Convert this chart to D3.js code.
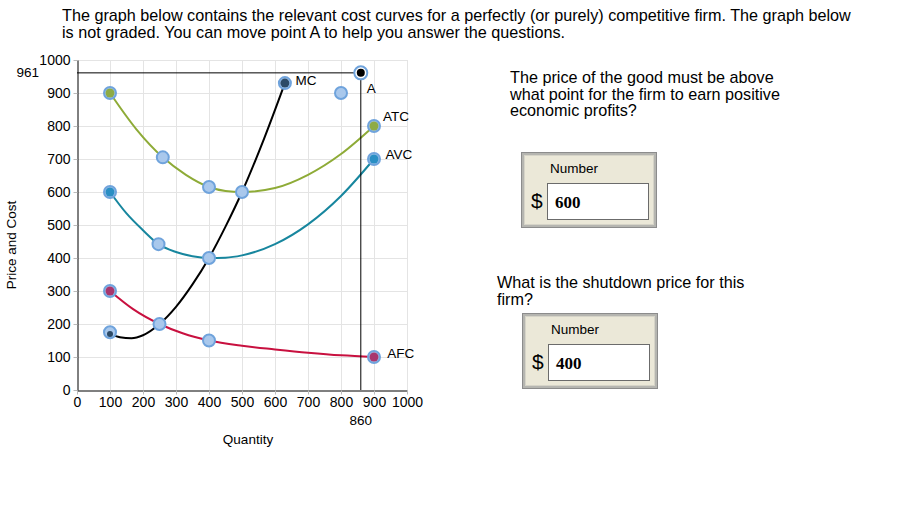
<!DOCTYPE html>
<html>
<head>
<meta charset="utf-8">
<script src="https://d3js.org/d3.v7.min.js"></script>
<style>
  body { margin: 0; background: #fff; }
  svg { font-family: Arial, "Liberation Sans", sans-serif; }
</style>
</head>
<body>
<div id="chart"></div>
<script>
// curve samples [quantity, price]
var mcCurve = [[100,170],[130,160],[165,157],[200,166],[250,200],[300,252],[350,320],[400,400],[450,495],[500,600],[567,762],[630,930]];
var atcCurve = [[100,900],[180,790],[260,705],[330,652],[400,615],[450,603],[500,600],[600,612],[700,652],[800,715],[900,800]];
var avcCurve = [[100,600],[150,535],[200,484],[247,442],[300,418],[350,405],[400,400],[450,401],[500,408],[600,442],[700,502],[800,588],[900,700]];
var afcCurve = [[100,300],[170,245],[250,200],[320,172],[400,150],[500,134],[600,123],[700,113],[800,105],[900,100]];

// draggable handles, inner = colour of the dot inside (null = plain)
var handles = [
  {q: 100, p: 900, inner: '#8eab45'}, {q: 260, p: 705, inner: null}, {q: 400, p: 615, inner: null},
  {q: 500, p: 600, inner: null}, {q: 900, p: 800, inner: '#8eab45'},
  {q: 100, p: 600, inner: '#2a8fc4'}, {q: 247, p: 442, inner: null}, {q: 400, p: 400, inner: null},
  {q: 900, p: 700, inner: '#2a8fc4'},
  {q: 100, p: 300, inner: '#a8366e'}, {q: 250, p: 200, inner: null}, {q: 400, p: 150, inner: null},
  {q: 900, p: 100, inner: '#a8366e'},
  {q: 100, p: 175, inner: null}, {q: 630, p: 930, inner: '#2c4a66'},
  {q: 800, p: 900, inner: null}
];

var pointA = {q: 860, p: 961};
var ticks = [0, 100, 200, 300, 400, 500, 600, 700, 800, 900, 1000];

var curveLabels = [
  {text: 'MC', q: 662, p: 935},
  {text: 'ATC', q: 927, p: 827},
  {text: 'AVC', q: 935, p: 712},
  {text: 'AFC', q: 940, p: 108}
];

var svgWidth = 900;
var svgHeight = 506;
var fontFamily = 'Arial, "Liberation Sans", sans-serif';

var svg = d3.select('#chart').append('svg')
  .attr('width', svgWidth)
  .attr('height', svgHeight);

var x = d3.scaleLinear().domain([0, 1000]).range([77, 407]);
var y = d3.scaleLinear().domain([0, 1000]).range([390, 60]);

// title
var title = svg.append('text').attr('font-size', 16.2).attr('fill', '#000');
title.append('tspan').attr('x', 62).attr('y', 21)
  .text('The graph below contains the relevant cost curves for a perfectly (or purely) competitive firm. The graph below');
title.append('tspan').attr('x', 62).attr('y', 38)
  .text('is not graded. You can move point A to help you answer the questions.');

// grid
var grid = svg.append('g').attr('stroke', '#e4e4e4').attr('stroke-width', 1);
grid.selectAll('line.v').data(ticks.slice(1)).enter().append('line')
  .attr('x1', d => x(d) + 0.5).attr('x2', d => x(d) + 0.5)
  .attr('y1', y(0)).attr('y2', y(1000));
grid.selectAll('line.h').data(ticks.slice(1)).enter().append('line')
  .attr('x1', x(0)).attr('x2', x(1000))
  .attr('y1', d => y(d) + 0.5).attr('y2', d => y(d) + 0.5);

// axes
var xAxis = d3.axisBottom(x).tickValues(ticks).tickFormat(d3.format('d')).tickSize(4).tickSizeOuter(0).tickPadding(3);
var yAxis = d3.axisLeft(y).tickValues(ticks).tickFormat(d3.format('d')).tickSize(4).tickSizeOuter(0).tickPadding(3);

var gx = svg.append('g').attr('transform', `translate(0, ${y(0) + 0.5})`).call(xAxis);
var gy = svg.append('g').attr('transform', `translate(${x(0) + 0.5}, 0)`).call(yAxis);
[gx, gy].forEach(function(g) {
  g.attr('font-size', 14).attr('font-family', fontFamily);
  g.select('.domain').attr('stroke', '#000');
  g.selectAll('.tick line').attr('stroke', '#bbb');
  g.selectAll('.tick text').attr('fill', '#000');
});

svg.append('text').attr('x', 248).attr('y', 444).attr('text-anchor', 'middle')
  .attr('font-size', 13.5).text('Quantity');
svg.append('text').attr('transform', 'translate(16, 245) rotate(-90)').attr('text-anchor', 'middle')
  .attr('font-size', 13.5).text('Price and Cost');

// curves
var line = d3.line().x(d => x(d[0])).y(d => y(d[1])).curve(d3.curveMonotoneX);
var curves = [
  {data: atcCurve, color: '#8eab37'},
  {data: avcCurve, color: '#17869e'},
  {data: afcCurve, color: '#c8103f'},
  {data: mcCurve, color: '#000'}
];
svg.selectAll('path.curve').data(curves).enter().append('path')
  .attr('class', 'curve')
  .attr('d', d => line(d.data))
  .attr('fill', 'none')
  .attr('stroke', d => d.color)
  .attr('stroke-width', 2)
  .attr('stroke-linecap', 'round');

// point A guide lines
svg.append('line').attr('x1', x(0)).attr('x2', x(pointA.q))
  .attr('y1', y(pointA.p)).attr('y2', y(pointA.p)).attr('stroke', '#000');
svg.append('line').attr('x1', x(pointA.q)).attr('x2', x(pointA.q))
  .attr('y1', y(pointA.p)).attr('y2', y(0)).attr('stroke', '#000');

svg.append('text').attr('x', 39).attr('y', 77).attr('text-anchor', 'end')
  .attr('font-size', 13.5).text(pointA.p);
svg.append('text').attr('x', x(pointA.q)).attr('y', 425).attr('text-anchor', 'middle')
  .attr('font-size', 13.5).text(pointA.q);

// handles
var hg = svg.selectAll('g.handle').data(handles).enter().append('g').attr('class', 'handle')
  .attr('transform', d => `translate(${x(d.q)}, ${y(d.p)})`);
hg.append('circle').attr('r', 6)
  .attr('fill', '#a9c8ec')
  .attr('stroke', '#6fa3dc')
  .attr('stroke-width', 2);
hg.filter(d => d.inner).append('circle').attr('r', 4.5).attr('fill', d => d.inner);

// start of the MC curve shows as a small dark dot
svg.append('circle').attr('cx', x(mcCurve[0][0])).attr('cy', y(mcCurve[0][1]))
  .attr('r', 3).attr('fill', '#2c4a66');

// point A
var ag = svg.append('g').attr('transform', `translate(${x(pointA.q)}, ${y(pointA.p)})`);
ag.append('circle').attr('r', 6.5).attr('fill', '#fff').attr('stroke', '#6fa3dc').attr('stroke-width', 2);
ag.append('circle').attr('r', 4).attr('fill', '#000');
svg.append('text').attr('x', x(pointA.q) + 6).attr('y', y(pointA.p) + 20).attr('font-size', 13.5).text('A');

// curve labels
svg.selectAll('text.clabel').data(curveLabels).enter().append('text')
  .attr('class', 'clabel')
  .attr('x', d => x(d.q)).attr('y', d => y(d.p) + 4)
  .attr('font-size', 13.5)
  .text(d => d.text);

// questions
function question(lines, x0, y0) {
  var t = svg.append('text').attr('font-size', 16.2).attr('fill', '#000');
  lines.forEach(function(s, i) {
    t.append('tspan').attr('x', x0).attr('y', y0 + i * 16.5).text(s);
  });
}
question(['The price of the good must be above', 'what point for the firm to earn positive', 'economic profits?'], 510, 83);
question(['What is the shutdown price for this', 'firm?'], 497, 288);

function answerBox(x0, y0, value) {
  var g = svg.append('g').attr('transform', `translate(${x0}, ${y0})`);
  g.append('rect').attr('x', 0.5).attr('y', 0.5).attr('width', 135).attr('height', 75)
    .attr('fill', '#b5b5b0').attr('stroke', '#8c8c8c');
  g.append('rect').attr('x', 3.5).attr('y', 3.5).attr('width', 129).attr('height', 69)
    .attr('fill', '#ebe8d8').attr('stroke', '#d6d4c8');
  g.append('text').attr('x', 29).attr('y', 21).attr('font-size', 13.5).text('Number');
  g.append('text').attr('x', 10).attr('y', 56).attr('font-size', 21).text('$');
  g.append('rect').attr('x', 26.5).attr('y', 31.5).attr('width', 101).attr('height', 36)
    .attr('fill', '#fff').attr('stroke', '#6b6b6b');
  g.append('text').attr('x', 34).attr('y', 56).attr('font-size', 17).attr('font-weight', 'bold')
    .attr('font-family', '"Liberation Serif", "Times New Roman", serif').text(value);
}
answerBox(521, 152, '600');
answerBox(522, 313, '400');
</script>
</body>
</html>
